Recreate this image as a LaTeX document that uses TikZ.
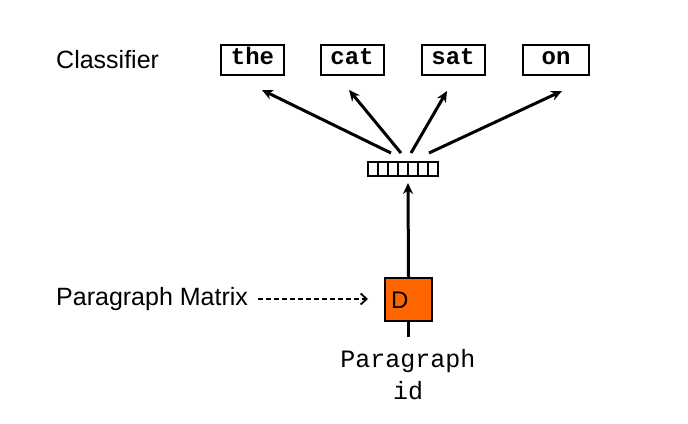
\documentclass[tikz,border=0pt]{standalone}
\usepackage{fontspec}
\setmainfont{Liberation Sans}
\newfontfamily\cour{Liberation Mono}
\usetikzlibrary{arrows.meta}
\begin{document}
\begin{tikzpicture}[x=1pt,y=-1pt,
  word/.style={draw,line width=2pt,minimum width=63pt,minimum height=30pt,inner sep=0pt,font=\cour\bfseries\fontsize{24}{24}\selectfont},
  arr/.style={-{Stealth[length=11pt,width=10pt]},line width=3pt},
  lbl/.style={font=\fontsize{25}{25}\selectfont,anchor=west,inner sep=0pt}]
\useasboundingbox (0,0) rectangle (688,423);
\node[lbl] (cls) at (56,60) {Classifier};
\node[word] (the) at (252.5,59.5) {\strut the};
\node[word] (cat) at (352,59.5) {\strut cat};
\node[word] (sat) at (453,59.5) {\strut sat};
\node[word,minimum width=66pt] (on) at (556,59.5) {\strut on};
\node[draw,line width=1.8pt,minimum width=70pt,minimum height=14pt,inner sep=0pt] (vec) at (403,169) {};
\foreach \i in {1,...,6} \draw[line width=1.8pt] (368+\i*10,162) -- (368+\i*10,176);
\coordinate (v1) at (391,153);\coordinate (v2) at (401,153);
\coordinate (v3) at (411,153);\coordinate (v4) at (429,153);
\draw[arr] (v1) -- (262,90);
\draw[arr] (v2) -- (349,90);
\draw[arr] (v3) -- (447,91);
\draw[arr] (v4) -- (562,91);
\node[draw,line width=2pt,fill={rgb,255:red,255;green,102;blue,0},minimum width=47pt,minimum height=43pt,inner sep=0pt] (D) at (408.5,299.5) {};
\node[font=\fontsize{24}{24}\selectfont,anchor=west,inner sep=0pt] at (391,300) {D};
\draw[line width=3pt] (D.south) -- ++(0,15);
\draw[arr] (D.north) -- (408,183);
\node[lbl] (pm) at (56,299) {Paragraph Matrix};
\coordinate (de) at (368,299);
\draw[line width=1.8pt,dash pattern=on 5pt off 3pt,-{Straight Barb[length=6pt,width=11pt]}] (258,299) -- (de);
\node[font=\cour\fontsize{25}{32}\selectfont,align=center] (pid) at (408,375) {Paragraph\\id};
\end{tikzpicture}
\end{document}
